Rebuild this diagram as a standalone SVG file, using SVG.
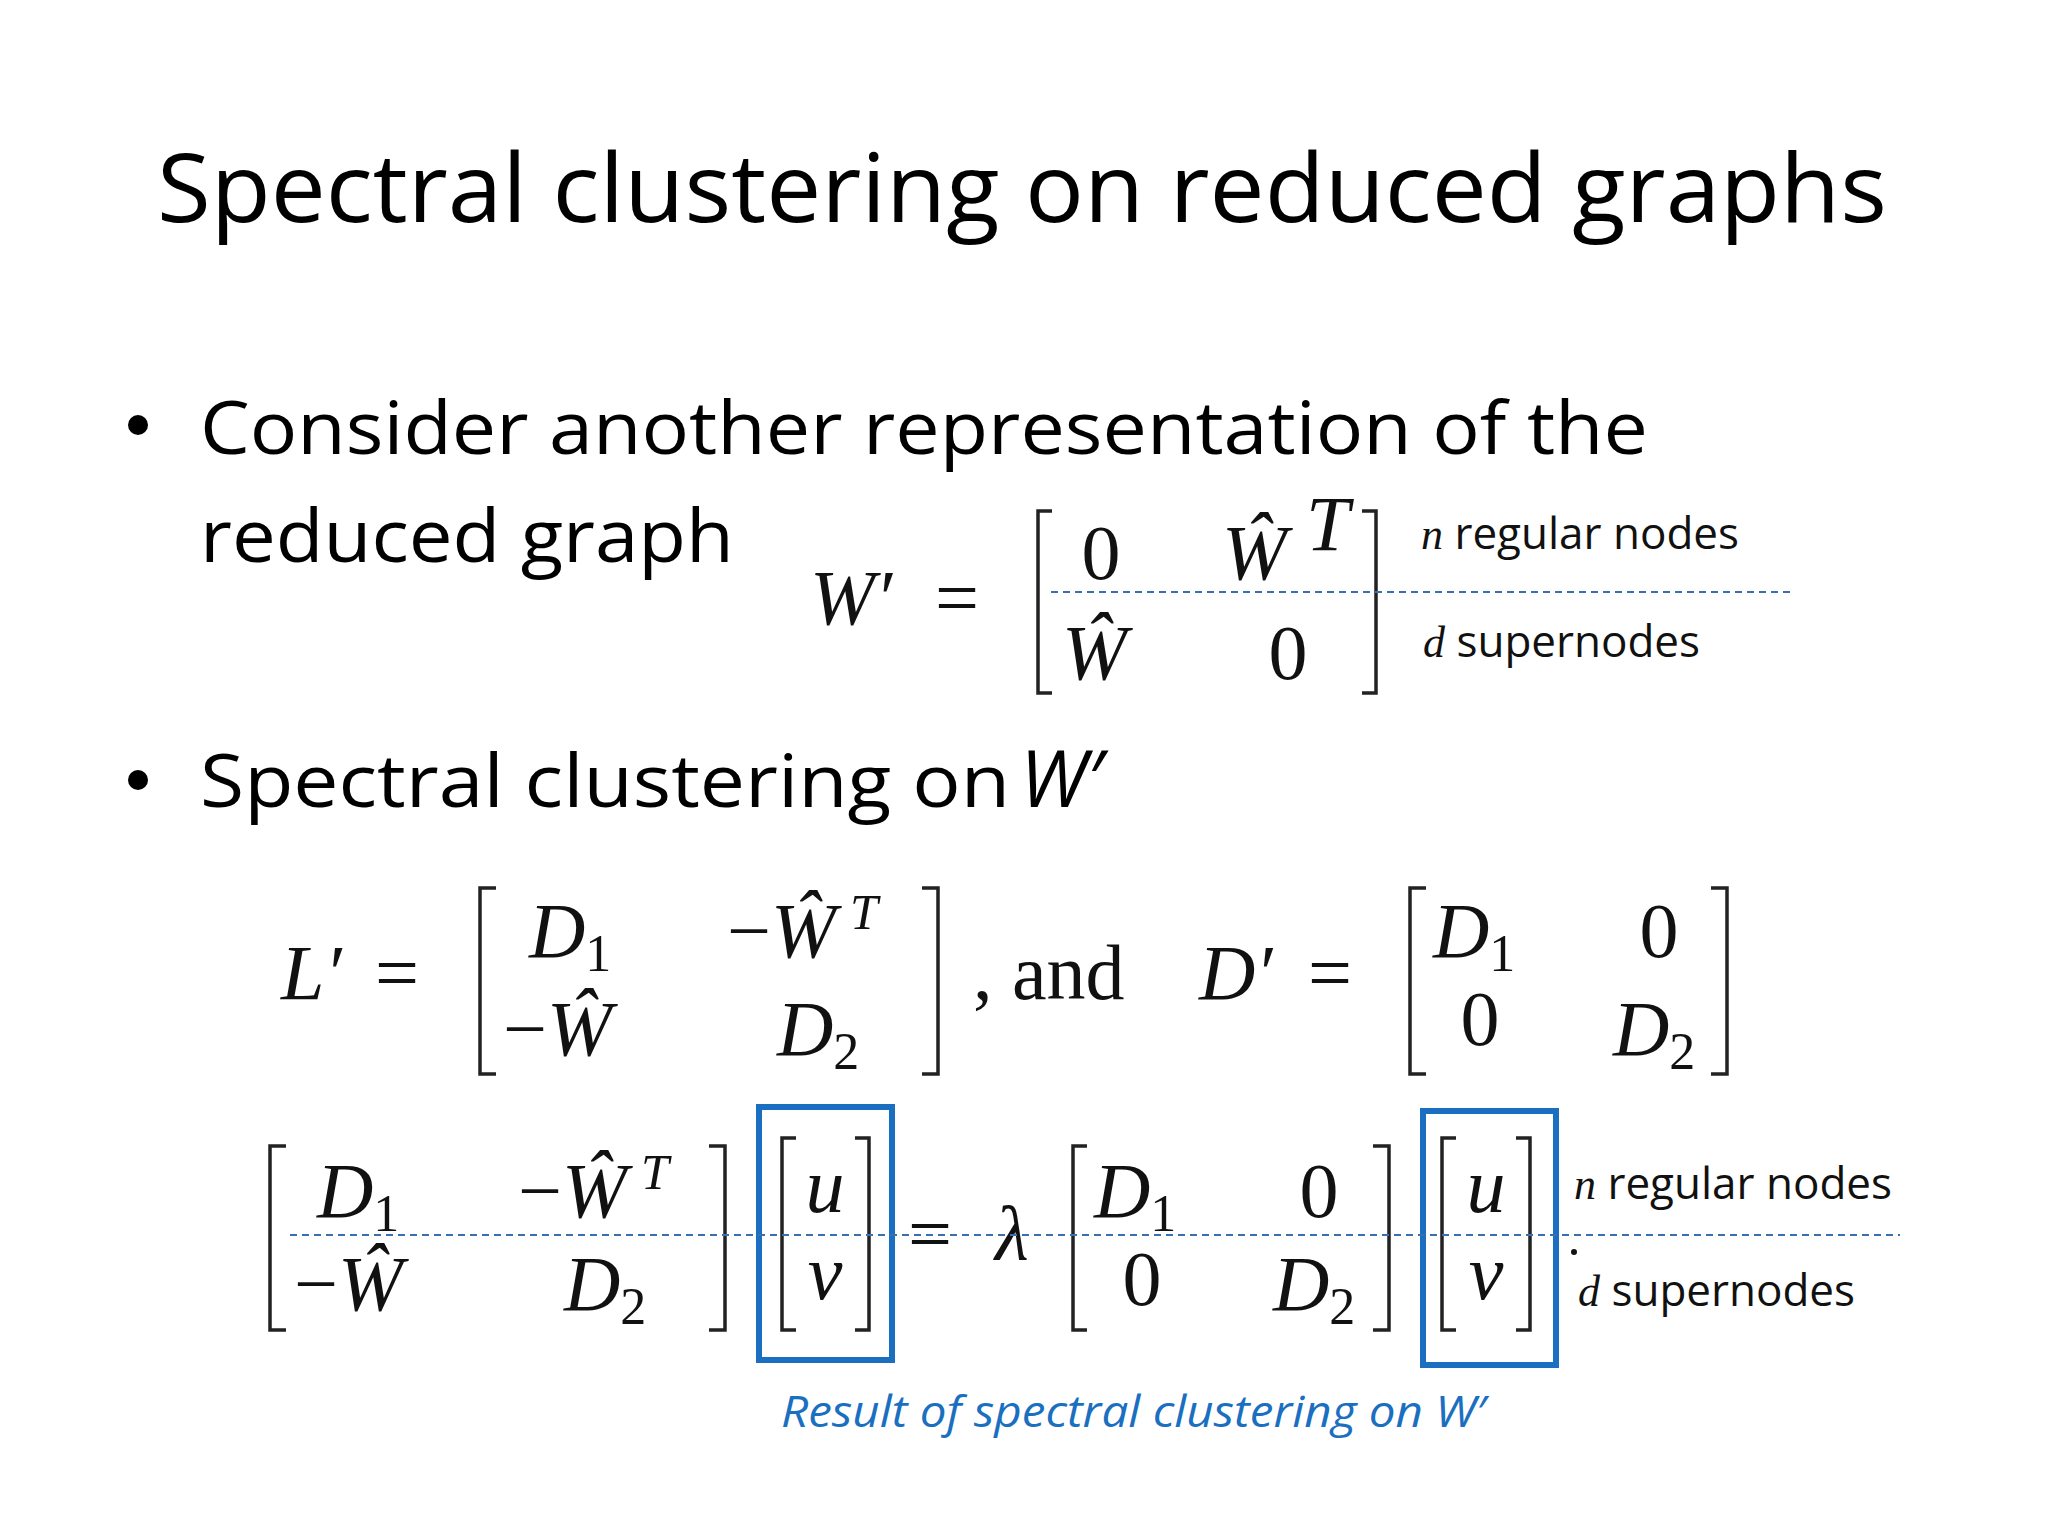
<svg xmlns="http://www.w3.org/2000/svg" width="2048" height="1536" viewBox="0 0 2048 1536">
<style>
.s{font-family:"Open Sans","Liberation Sans",sans-serif;fill:#000}
.m{font-family:"Liberation Serif",serif;fill:#111;font-size:78px}
.i{font-style:italic}
.sub{font-size:52px}
.lab{font-family:"Open Sans","Liberation Sans",sans-serif;font-size:44px;fill:#111}
.br{fill:none;stroke:#222;stroke-width:3.5}
.dash{stroke:#3a6fb0;stroke-width:2;stroke-dasharray:7 5}
.box{fill:none;stroke:#1a6fc0;stroke-width:6}
</style>
<rect width="2048" height="1536" fill="#fff"/>
<text class="s" x="157" y="222" font-size="96" textLength="1730" lengthAdjust="spacingAndGlyphs">Spectral clustering on reduced graphs</text>
<circle cx="138" cy="425" r="10"/>
<text class="s" x="200" y="454" font-size="74" textLength="1448" lengthAdjust="spacingAndGlyphs">Consider another representation of the</text>
<text class="s" x="200" y="562" font-size="74" textLength="534" lengthAdjust="spacingAndGlyphs">reduced graph</text>
<circle cx="138" cy="780" r="10"/>
<text class="s" x="200" y="807" font-size="74" textLength="810" lengthAdjust="spacingAndGlyphs">Spectral clustering on</text>
<text class="s" x="1020" y="807" font-size="78" font-style="italic">W′</text>

<g id="eqW">
<text class="m i" x="810" y="624">W′</text><text class="m" x="935" y="624">=</text>
<path class="br" d="M1052 511 H1038 V693 H1052 M1362 511 H1376 V693 H1362"/>
<text class="m" x="1101" y="579" text-anchor="middle">0</text>
<text class="m i" x="1222" y="579">Ŵ</text><text class="m i" x="1306" y="550" font-size="50">T</text>
<text class="m i" x="1062" y="679">Ŵ</text>
<text class="m" x="1288" y="679" text-anchor="middle">0</text>
<line class="dash" x1="1051" y1="592" x2="1792" y2="592"/>
<text class="lab" x="1421" y="549"><tspan font-family="Liberation Serif" font-style="italic">n</tspan> regular nodes</text>
<text class="lab" x="1423" y="657"><tspan font-family="Liberation Serif" font-style="italic">d</tspan> supernodes</text>
</g>

<g id="eqL">
<text class="m i" x="281" y="999">L′</text><text class="m" x="375" y="999">=</text>
<path class="br" d="M496 888 H480 V1074 H496 M922 888 H938 V1074 H922"/>
<text class="m i" x="529" y="957">D<tspan class="sub" font-style="normal" dy="14">1</tspan></text>
<text class="m" x="727" y="957">−<tspan font-style="italic">Ŵ</tspan><tspan font-style="italic" font-size="50" dx="14" dy="-28">T</tspan></text>
<text class="m" x="503" y="1055">−<tspan font-style="italic">Ŵ</tspan></text>
<text class="m i" x="777" y="1055">D<tspan class="sub" font-style="normal" dy="14">2</tspan></text>
<text class="m" x="973" y="999">, and</text>
<text class="m i" x="1199" y="999">D′</text><text class="m" x="1308" y="999">=</text>
<path class="br" d="M1426 888 H1410 V1074 H1426 M1711 888 H1727 V1074 H1711"/>
<text class="m i" x="1433" y="957">D<tspan class="sub" font-style="normal" dy="14">1</tspan></text>
<text class="m" x="1659" y="957" text-anchor="middle">0</text>
<text class="m" x="1480" y="1045" text-anchor="middle">0</text>
<text class="m i" x="1613" y="1055">D<tspan class="sub" font-style="normal" dy="14">2</tspan></text>
</g>

<g id="eqEig">
<path class="br" d="M286 1146 H270 V1330 H286 M709 1146 H725 V1330 H709"/>
<text class="m i" x="317" y="1217">D<tspan class="sub" font-style="normal" dy="14">1</tspan></text>
<text class="m" x="518" y="1217">−<tspan font-style="italic">Ŵ</tspan><tspan font-style="italic" font-size="50" dx="14" dy="-28">T</tspan></text>
<text class="m" x="294" y="1310">−<tspan font-style="italic">Ŵ</tspan></text>
<text class="m i" x="564" y="1310">D<tspan class="sub" font-style="normal" dy="14">2</tspan></text>
<path class="br" d="M796 1138 H782 V1330 H796 M855 1138 H869 V1330 H855"/>
<text class="m i" x="825" y="1212" text-anchor="middle">u</text>
<text class="m i" x="825" y="1299" text-anchor="middle">v</text>
<rect class="box" x="759" y="1107" width="133" height="253"/>
<text class="m" x="908" y="1260">=</text>
<text class="m i" x="995" y="1260">λ</text>
<path class="br" d="M1087 1146 H1073 V1330 H1087 M1373 1146 H1389 V1330 H1373"/>
<text class="m i" x="1094" y="1217">D<tspan class="sub" font-style="normal" dy="14">1</tspan></text>
<text class="m" x="1319" y="1217" text-anchor="middle">0</text>
<text class="m" x="1142" y="1305" text-anchor="middle">0</text>
<text class="m i" x="1273" y="1310">D<tspan class="sub" font-style="normal" dy="14">2</tspan></text>
<path class="br" d="M1456 1138 H1442 V1330 H1456 M1516 1138 H1530 V1330 H1516"/>
<text class="m i" x="1486" y="1212" text-anchor="middle">u</text>
<text class="m i" x="1486" y="1299" text-anchor="middle">v</text>
<rect class="box" x="1423" y="1111" width="133" height="254"/>
<circle cx="1574" cy="1252" r="3" fill="#111"/>
<line class="dash" x1="290" y1="1235" x2="1900" y2="1235"/>
<text class="lab" x="1574" y="1199"><tspan font-family="Liberation Serif" font-style="italic">n</tspan> regular nodes</text>
<text class="lab" x="1578" y="1306"><tspan font-family="Liberation Serif" font-style="italic">d</tspan> supernodes</text>
<text x="781" y="1427" font-family="Open Sans, Liberation Sans, sans-serif" font-style="italic" font-size="44" fill="#1a6fc0" textLength="705" lengthAdjust="spacingAndGlyphs">Result of spectral clustering on W′</text>
</g>
</svg>
